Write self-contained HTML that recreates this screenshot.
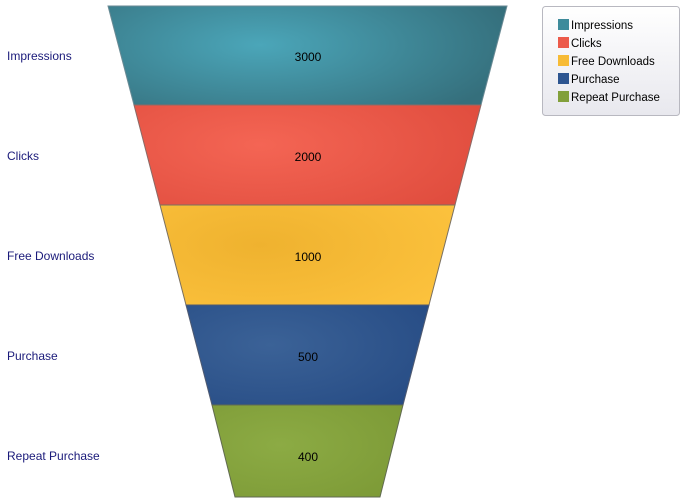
<!DOCTYPE html>
<html><head><style>
body{margin:0;width:685px;height:501px;background:#fff;font-family:"Liberation Sans",sans-serif;overflow:hidden}
</style></head><body>
<svg width="685" height="501" xmlns="http://www.w3.org/2000/svg" style="position:absolute;left:0;top:0">
<defs>
<radialGradient id="g1" gradientUnits="userSpaceOnUse" cx="260" cy="45" r="260" gradientTransform="translate(260 45) scale(1 0.35) translate(-260 -45)"><stop offset="0" stop-color="#4ba6b9"/><stop offset="1" stop-color="#356f7c"/></radialGradient>
<radialGradient id="g2" gradientUnits="userSpaceOnUse" cx="260" cy="145" r="240" gradientTransform="translate(260 145) scale(1 0.38) translate(-260 -145)"><stop offset="0" stop-color="#f46554"/><stop offset="1" stop-color="#e04d3e"/></radialGradient>
<radialGradient id="g3" gradientUnits="userSpaceOnUse" cx="260" cy="245" r="220" gradientTransform="translate(260 245) scale(1 0.4) translate(-260 -245)"><stop offset="0" stop-color="#efb22f"/><stop offset="1" stop-color="#fcc23d"/></radialGradient>
<radialGradient id="g4" gradientUnits="userSpaceOnUse" cx="270" cy="345" r="200" gradientTransform="translate(270 345) scale(1 0.45) translate(-270 -345)"><stop offset="0" stop-color="#3b6297"/><stop offset="1" stop-color="#254a83"/></radialGradient>
<radialGradient id="g5" gradientUnits="userSpaceOnUse" cx="280" cy="445" r="170" gradientTransform="translate(280 445) scale(1 0.5) translate(-280 -445)"><stop offset="0" stop-color="#8cab44"/><stop offset="1" stop-color="#7a9734"/></radialGradient>
</defs>
<polygon points="108,6 507,6 481,105 134,105" fill="url(#g1)" stroke="#6a8a94" stroke-width="1"/>
<polygon points="134,105 481,105 455,205 160,205" fill="url(#g2)" stroke="#8a6a66" stroke-width="1"/>
<polygon points="160,205 455,205 429,305 186,305" fill="url(#g3)" stroke="#7a7060" stroke-width="1"/>
<polygon points="186,305 429,305 403,405 212,405" fill="url(#g4)" stroke="#505a70" stroke-width="1"/>
<polygon points="212,405 403,405 380,497 235,497" fill="url(#g5)" stroke="#606a50" stroke-width="1"/>
<g font-size="12" fill="#000" text-anchor="middle" font-family="Liberation Sans, sans-serif">
<text x="308" y="61">3000</text><text x="308" y="161">2000</text><text x="308" y="261">1000</text><text x="308" y="361">500</text><text x="308" y="461">400</text>
</g>
<g font-size="12" fill="#1a1a7a" font-family="Liberation Sans, sans-serif">
<text x="7" y="60">Impressions</text><text x="7" y="160">Clicks</text><text x="7" y="260">Free Downloads</text><text x="7" y="360">Purchase</text><text x="7" y="460">Repeat Purchase</text>
</g>
<defs><linearGradient id="lg" x1="0" y1="0" x2="0" y2="1"><stop offset="0" stop-color="#ffffff"/><stop offset="1" stop-color="#e8e8ee"/></linearGradient></defs>
<rect x="542.5" y="6.5" width="137" height="109" rx="3" fill="url(#lg)" stroke="#b8b8c0"/>
<rect x="558" y="19" width="11" height="11" fill="#3e8b9b"/>
<rect x="558" y="37" width="11" height="11" fill="#ec5a4a"/>
<rect x="558" y="55" width="11" height="11" fill="#f7bb36"/>
<rect x="558" y="73" width="11" height="11" fill="#2d5590"/>
<rect x="558" y="91" width="11" height="11" fill="#82a03b"/>
<g font-size="11.5" fill="#000" font-family="Liberation Sans, sans-serif">
<text x="571" y="29">Impressions</text><text x="571" y="47">Clicks</text><text x="571" y="65">Free Downloads</text><text x="571" y="83">Purchase</text><text x="571" y="101">Repeat Purchase</text>
</g>
</svg>
</body></html>
